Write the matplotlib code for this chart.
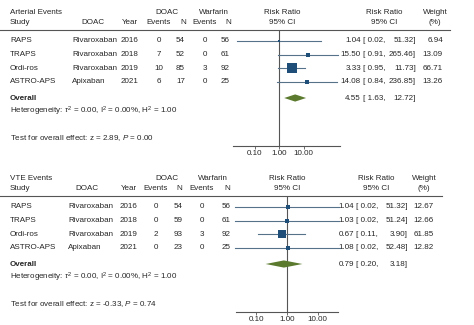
import numpy as np
import matplotlib
matplotlib.use('Agg')
import matplotlib.pyplot as plt

plt.rcParams['font.family'] = ['Liberation Sans', 'DejaVu Sans']
plt.rcParams['mathtext.fontset'] = 'custom'
plt.rcParams['mathtext.rm'] = 'Liberation Sans'
plt.rcParams['mathtext.it'] = 'Liberation Sans:italic'

studies = ['RAPS', 'TRAPS', 'Ordi-ros', 'ASTRO-APS']
drugs = ['Rivaroxaban', 'Rivaroxaban', 'Rivaroxaban', 'Apixaban']
years = [2016, 2018, 2019, 2021]

# arterial events
art_doac_ev = [0, 7, 10, 6]
art_doac_n = [54, 52, 85, 17]
art_warf_ev = [0, 0, 3, 0]
art_warf_n = [56, 61, 92, 25]
art_rr = [1.04, 15.50, 3.33, 14.08]
art_lo = [0.02, 0.91, 0.95, 0.84]
art_hi = [51.32, 265.46, 11.73, 236.85]
art_w = [6.94, 13.09, 66.71, 13.26]
art_overall = [4.55, 1.63, 12.72]
art_test = 'Test for overall effect: z = 2.89, $P$ = 0.00'

# VTE events
vte_doac_ev = [0, 0, 2, 0]
vte_doac_n = [54, 59, 93, 23]
vte_warf_ev = [0, 0, 3, 0]
vte_warf_n = [56, 61, 92, 25]
vte_rr = [1.04, 1.03, 0.67, 1.08]
vte_lo = [0.02, 0.02, 0.11, 0.02]
vte_hi = [51.32, 51.24, 3.90, 52.48]
vte_w = [12.67, 12.66, 61.85, 12.82]
vte_overall = [0.79, 0.20, 3.18]
vte_test = 'Test for overall effect: z = -0.33, $P$ = 0.74'

hetero = r'Heterogeneity: $\tau^2$ = 0.00, I$^2$ = 0.00%, H$^2$ = 1.00'
xticks = [0.1, 1, 10]
xticklabels = ['0.10', '1.00', '10.00']

sq_col = '#1f4e79'
ci_col = '#56718a'
dia_col = '#5b7a2e'
fs = 5.8

fig = plt.figure(figsize=(4.74, 3.25), dpi=100)
ax = fig.add_axes([0, 0, 1, 1])
ax.set_xlim(0, 474)
ax.set_ylim(325, 0)
ax.axis('off')


def panel(y0, title, dev, dn, wev, wn, rr, lo, hi, w, overall, test, cols, fbox, xlim):
    (c_drug, c_drug_h, c_year, c_ev, c_n, c_nh, c_grp, c_wev, c_wn, c_wnh, c_wgrp,
     c_rrh, c_rr, c_ci1, c_wt, c_wtr, c_end, c_rrh2) = cols
    kw = dict(fontsize=fs, va='center', color='#262626')
    ax.text(10, y0, title, **kw)
    ax.text(c_grp, y0, 'DOAC', ha='center', **kw)
    ax.text(c_wgrp, y0, 'Warfarin', ha='center', **kw)
    ax.text(c_rrh2, y0, 'Risk Ratio', ha='center', **kw)
    ax.text(c_rrh, y0, 'Risk Ratio', ha='center', **kw)
    ax.text(c_wt, y0, 'Weight', ha='center', **kw)
    y1 = y0 + 11
    ax.text(10, y1, 'Study', **kw)
    ax.text(c_drug_h, y1, 'DOAC', ha='center', **kw)
    ax.text(c_year, y1, 'Year', ha='right', **kw)
    ax.text(c_ev, y1, 'Events', ha='center', **kw)
    ax.text(c_nh, y1, 'N', ha='center', **kw)
    ax.text(c_wev, y1, 'Events', ha='center', **kw)
    ax.text(c_wnh, y1, 'N', ha='center', **kw)
    ax.text(c_rrh2, y1, '95% CI', ha='center', **kw)
    ax.text(c_rrh, y1, '95% CI', ha='center', **kw)
    ax.text(c_wt, y1, '(%)', ha='center', **kw)
    yl = y0 + 17.5
    ax.plot([0, c_end], [yl, yl], color='#555555', lw=0.8)

    def ci_text(y, r, l, h):
        ax.text(c_rr, y, '%.2f' % r, ha='right', **kw)
        ax.text(c_rr + 2.5, y, '[ %.2f,' % l, **kw)
        ax.text(c_ci1, y, '%.2f]' % h, ha='right', **kw)

    rows = yl + 11.5 + 13.5 * np.arange(len(studies))
    for i, y in enumerate(rows):
        ax.text(10, y, studies[i], **kw)
        ax.text(c_drug, y, drugs[i], **kw)
        ax.text(c_year, y, str(years[i]), ha='right', **kw)
        ax.text(c_ev, y, str(dev[i]), ha='center', **kw)
        ax.text(c_n, y, str(dn[i]), ha='right', **kw)
        ax.text(c_wev, y, str(wev[i]), ha='center', **kw)
        ax.text(c_wn, y, str(wn[i]), ha='right', **kw)
        ci_text(y, rr[i], lo[i], hi[i])
        ax.text(c_wtr, y, '%.2f' % w[i], ha='right', **kw)
    yo = rows[-1] + 16.5
    ax.text(10, yo, 'Overall', fontweight='bold', **kw)
    ci_text(yo, *overall)
    ax.text(10, yo + 13.5, hetero, **kw)
    ax.text(10, yo + 40, test, **kw)
    yaxis = yo + 47.5

    # forest plot
    fx = fig.add_axes([fbox[0] / 474, (325 - yaxis) / 325,
                       (fbox[1] - fbox[0]) / 474, (yaxis - yl) / 325])
    fx.set_xscale('log')
    fx.set_xlim(*xlim)
    fx.set_ylim(yaxis, yl)
    fx.patch.set_visible(False)
    for s in ['top', 'right', 'left']:
        fx.spines[s].set_visible(False)
    fx.spines['bottom'].set_color('#555555')
    fx.spines['bottom'].set_linewidth(0.8)
    fx.set_yticks([])
    fx.set_xticks(xticks)
    fx.set_xticklabels(xticklabels)
    fx.minorticks_off()
    fx.tick_params(axis='x', length=2, width=0.6, color='#555555', labelsize=fs,
                   labelcolor='#262626', pad=1.5)
    fx.axvline(1, color='#555555', lw=0.8)
    for i, y in enumerate(rows):
        fx.plot([lo[i], hi[i]], [y, y], color=ci_col, lw=0.8, clip_on=False)
        fx.plot(rr[i], y, 's', color=sq_col, ms=6.6 * np.sqrt(w[i] / 66.71),
                mew=0, clip_on=False, zorder=3)
    fx.fill([overall[1], overall[0], overall[2], overall[0]],
            [yo, yo - 3.6, yo, yo + 3.6], color=dia_col, lw=0, zorder=3)


# top panel
panel(12, 'Arterial Events', art_doac_ev, art_doac_n, art_warf_ev, art_warf_n,
      art_rr, art_lo, art_hi, art_w, art_overall, art_test,
      [72, 93, 138, 159, 185, 183, 167, 205, 230, 228, 214,
       384, 361, 416, 435, 443, 450, 282],
      (233, 340), (10 ** -1.88, 10 ** 2.49))

# bottom panel
panel(178, 'VTE Events', vte_doac_ev, vte_doac_n, vte_warf_ev, vte_warf_n,
      vte_rr, vte_lo, vte_hi, vte_w, vte_overall, vte_test,
      [68, 87, 137, 156, 183, 179, 167, 202, 231, 227, 213,
       376, 354, 408, 424, 434, 442, 287],
      (236, 338), (10 ** -1.67, 10 ** 1.67))

fig.savefig('out.png', dpi=100)
